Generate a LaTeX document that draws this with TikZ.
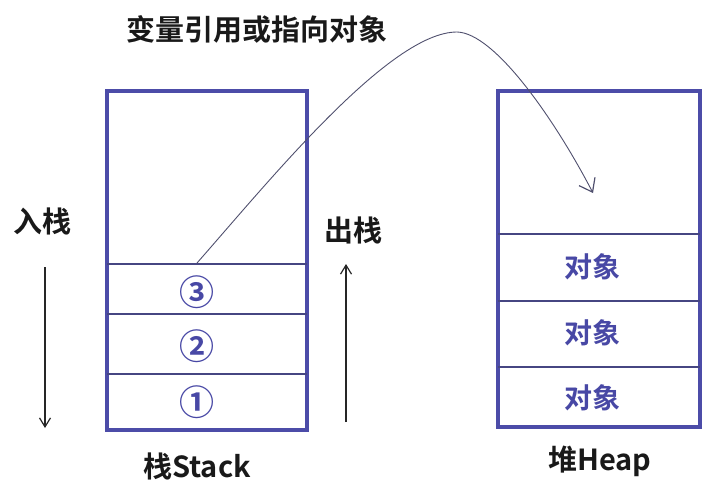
\documentclass[tikz,border=0pt]{standalone}
\usepackage{fontspec}
\usetikzlibrary{arrows.meta}
\newfontfamily\cjk{Noto Sans CJK SC}[BoldFont={Noto Sans CJK SC Bold}]
\definecolor{boxblue}{RGB}{76,76,168}
\definecolor{lineblue}{RGB}{70,70,130}
\definecolor{txtblue}{RGB}{72,72,165}
\definecolor{curvec}{RGB}{80,80,110}
\tikzset{
  memframe/.style={draw=boxblue, line width=4.5pt, inner sep=0pt, outer sep=0pt},
  divline/.style={draw=lineblue, line width=1.4pt},
  bigtext/.style={font=\cjk\bfseries\fontsize{29}{34}\selectfont, text=black!90, inner sep=0pt},
  objtext/.style={font=\cjk\bfseries\fontsize{28}{32}\selectfont, text=txtblue, inner sep=0pt},
  numtext/.style={font=\cjk\bfseries\fontsize{35}{38}\selectfont, text=txtblue, inner sep=0pt},
  vertarrow/.style={draw=black!85, line width=1.3pt, -{Straight Barb[length=9pt,width=11pt,line width=1.2pt]}},
  refcurve/.style={draw=curvec, line width=0.9pt, -{Straight Barb[length=12pt,width=18pt,line width=1.2pt]}}
}
\begin{document}
\begin{tikzpicture}[x=1pt,y=-1pt]
\useasboundingbox (0,0) rectangle (708,481);
% title
\node[bigtext] (title) at (257,29) {变量引用或指向对象};
% stack
\node[memframe, minimum width=200pt, minimum height=339pt] (stack) at (207,260.5) {};
\coordinate (sd1l) at (107,264); \coordinate (sd1r) at (307,264);
\coordinate (sd2l) at (107,314); \coordinate (sd2r) at (307,314);
\coordinate (sd3l) at (107,374); \coordinate (sd3r) at (307,374);
\draw[divline] (sd1l) -- (sd1r);
\draw[divline] (sd2l) -- (sd2r);
\draw[divline] (sd3l) -- (sd3r);
\node[numtext] (n3) at (197,292) {③};
\node[numtext] (n2) at (197,346) {②};
\node[numtext] (n1) at (197,402) {①};
\node[bigtext] (stacklbl) at (197,466) {栈Stack};
% heap
\node[memframe, minimum width=202pt, minimum height=336pt] (heap) at (599,259) {};
\coordinate (hd1l) at (498,234); \coordinate (hd1r) at (700,234);
\coordinate (hd2l) at (498,301); \coordinate (hd2r) at (700,301);
\coordinate (hd3l) at (498,367); \coordinate (hd3r) at (700,367);
\draw[divline] (hd1l) -- (hd1r);
\draw[divline] (hd2l) -- (hd2r);
\draw[divline] (hd3l) -- (hd3r);
\node[objtext] (o1) at (592,267) {对象};
\node[objtext] (o2) at (592,333) {对象};
\node[objtext] (o3) at (592,398) {对象};
\node[bigtext] (heaplbl) at (600,461) {堆Heap};
% push / pop
\node[bigtext] (push) at (42,221) {入栈};
\coordinate (pushs) at (45,267); \coordinate (pushe) at (45,428);
\draw[vertarrow] (pushs) -- (pushe);
\node[bigtext] (pop) at (353,230) {出栈};
\coordinate (pops) at (346,422); \coordinate (pope) at (346,264);
\draw[vertarrow] (pops) -- (pope);
% reference curve
\coordinate (cstart) at (197,263);
\coordinate (cpeak) at (457,32);
\coordinate (cend) at (593,193);
\draw[refcurve] (cstart) .. controls (270,180) and (390,32) .. (cpeak)
  .. controls (495,33) and (555,120) .. (cend);
\end{tikzpicture}
\end{document}
